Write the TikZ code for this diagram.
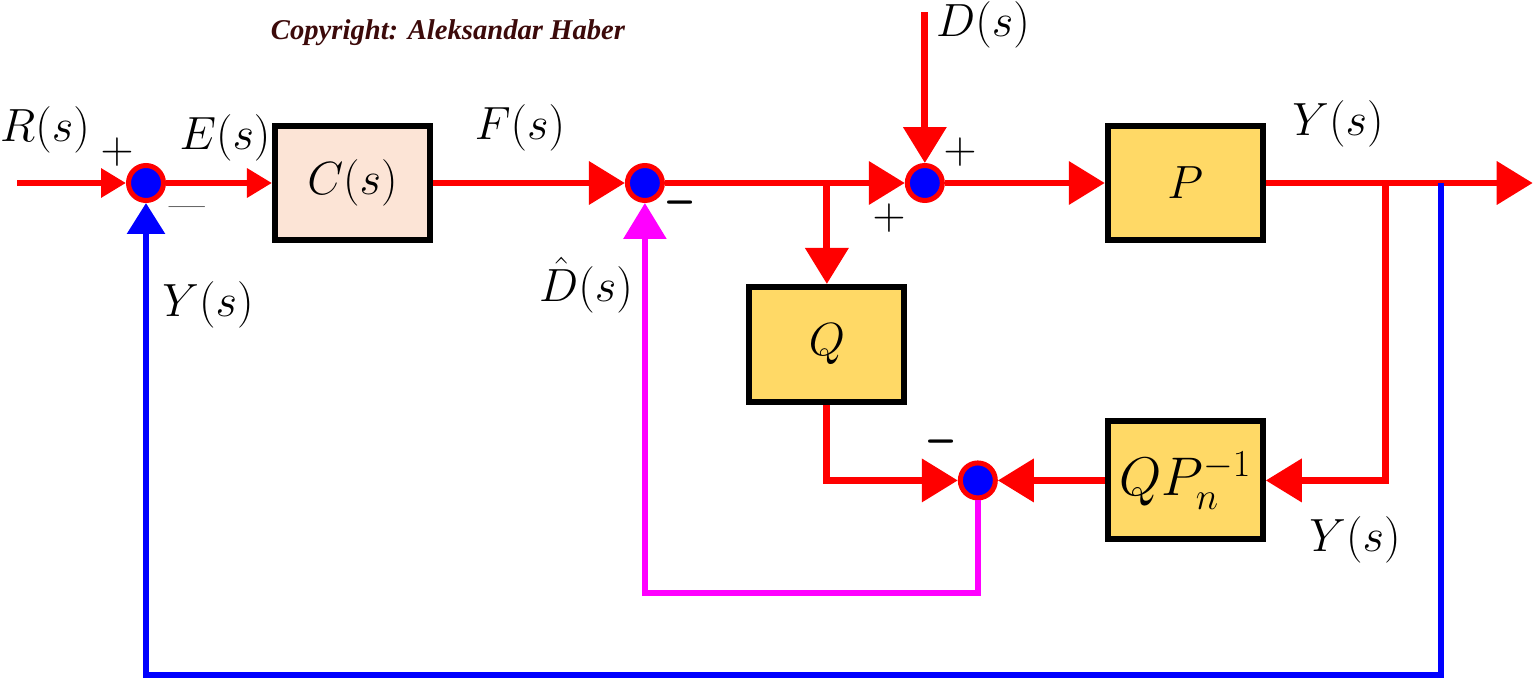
\documentclass[tikz,border=0pt]{standalone}
\usepackage{fix-cm}
\usepackage{fontspec}
\newfontfamily\copyfont{Liberation Serif}
\usetikzlibrary{arrows.meta,positioning}
\definecolor{peach}{HTML}{FCE4D6}
\definecolor{gold}{HTML}{FFD966}
\definecolor{darkbrown}{RGB}{60,10,10}
\definecolor{pinkline}{RGB}{255,0,255}

\begin{document}
\begin{tikzpicture}[x=0.02cm,y=-0.02cm,font=\fontsize{26.5}{30}\selectfont,
		>={Triangle[length=0.72cm,width=0.84cm]}]
		\tikzstyle{block}=[rectangle,draw=black,line width=0.12cm,minimum width=3.1cm,minimum height=2.3cm,inner sep=0pt]
		\tikzstyle{sum_point}=[circle,draw=red,fill=blue,line width=0.1cm,minimum size=0.7cm,inner sep=0pt]
		\tikzstyle{signal}=[red,line width=0.14cm]
		\tikzstyle{short_tip}=[-{Triangle[length=0.5cm,width=0.56cm]}]
		\tikzstyle{plus_sign}=[font=\fontsize{26}{28}\selectfont]
		\tikzstyle{bold_sign}=[font=\fontsize{26}{26}\selectfont\sffamily\bfseries]
		
		\useasboundingbox (0,0) rectangle (1536,679);
		
		\node[sum_point] (sum1) at (146,183) {};
		\node[block,fill=peach] (C) [right=2.12cm of sum1] {$C(s)$};
		\node[sum_point] (sum2) [right=3.84cm of C] {};
		\node[sum_point] (sum3) [right=4.8cm of sum2] {};
		\node[block,fill=gold] (P) [right=3.2cm of sum3] {$P$};
		\coordinate[right=3.24cm of sum2.east] (br1);
		\node[block,fill=gold] (Q) [below=2.02cm of br1] {$Q$};
		\node[block,fill=gold,minimum height=2.36cm,font=\fontsize{31}{34}\selectfont] (QP) [below=3.5cm of P] {$QP_n^{-1}$};
		\node[sum_point] (sum4) [left=2.14cm of QP] {};
		
		\coordinate[left=2.18cm of sum1] (in);
		\coordinate[right=5.34cm of P] (out);
		\coordinate[above=3.02cm of sum3] (din);
		\coordinate[right=2.4cm of P.east] (br2);
		\coordinate[right=3.5cm of P.east] (br3);
		\coordinate[below=9.84cm of br3] (bot);
		\coordinate[below=1.86cm of sum4] (mag);
		
		\draw[signal,short_tip] (in) -- (sum1);
		\draw[signal,short_tip] (sum1) -- (C);
		\draw[signal,->] (C) -- (sum2);
		\draw[signal,->] (sum2) -- (sum3);
		\draw[signal,->] (br1) -- (Q);
		\draw[signal,->] (din) -- (sum3);
		\draw[signal,->] (sum3) -- (P);
		\draw[signal,->] (P) -- (out);
		\draw[signal,->] (br2) |- (QP);
		\draw[signal,->] (Q) |- (sum4);
		\draw[signal,->] (QP) -- (sum4);
		\draw[pinkline,line width=0.12cm,->] (sum4) -- (mag) -| (sum2);
		\draw[blue,line width=0.12cm,-{Triangle[length=0.62cm,width=0.74cm]}] (br3) -- (bot) -| (sum1);
		
		\node (lR) at (45,130) {$R(s)$};
		\node[plus_sign] (p1) at (117,152) {$+$};
		\node[font=\fontsize{22}{24}\selectfont] (m1) at (187,212) {\textemdash};
		\node (lE) at (225,138) {$E(s)$};
		\node (lY1) at (208,305) {$Y(s)$};
		\node (lF) at (520,128) {$F(s)$};
		\node[bold_sign] (m2) at (680,208) {\textendash};
		\node (lDh) at (586,285) {$\hat{D}(s)$};
		\node[plus_sign] (p2) at (960,152) {$+$};
		\node[plus_sign] (p3) at (889,218) {$+$};
		\node (lD) at (983,25) {$D(s)$};
		\node (lY2) at (1338,124) {$Y(s)$};
		\node[bold_sign] (m3) at (941,447) {\textendash};
		\node (lY3) at (1355,540) {$Y(s)$};
		\node[font=\copyfont\bfseries\itshape\fontsize{16.3}{19}\selectfont,text=darkbrown] (copy) at (448,33) {Copyright: Aleksandar Haber};
	\end{tikzpicture}
\end{document}
